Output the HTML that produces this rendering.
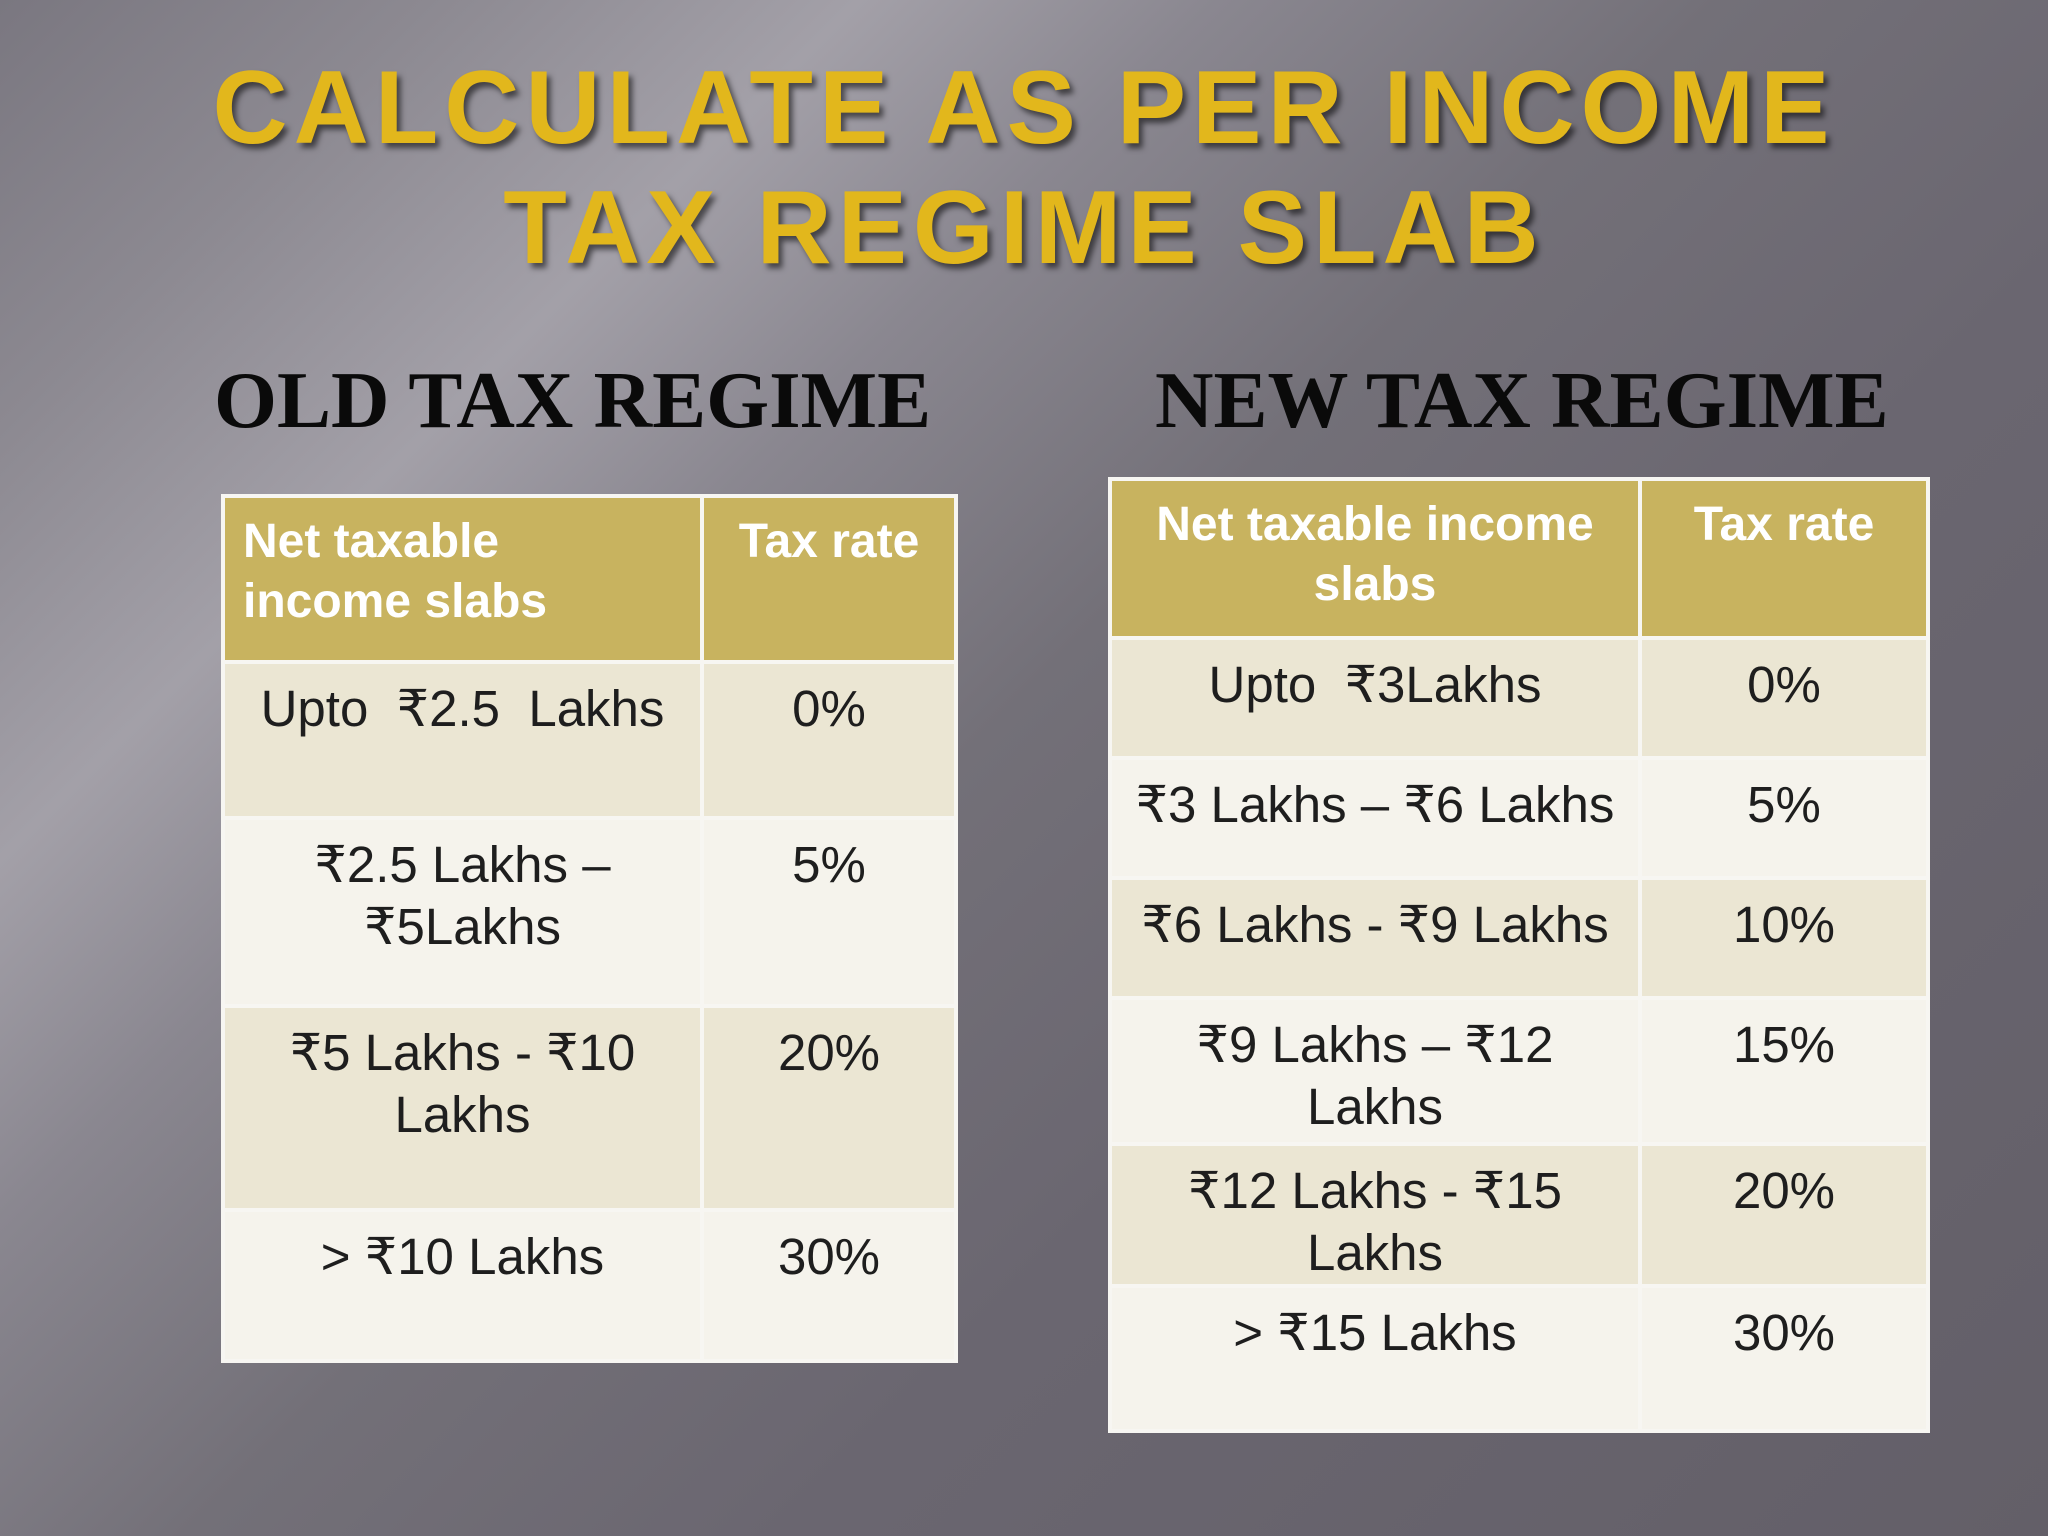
<!DOCTYPE html>
<html><head><meta charset="utf-8"><style>
html,body{margin:0;padding:0}
body{width:2048px;height:1536px;overflow:hidden;position:relative;font-family:"Liberation Sans","DejaVu Sans",sans-serif;
background:linear-gradient(135deg,#7a7780 0%,#8c8991 12%,#a3a0a8 24%,#8a8790 34%,#737078 48%,#6a6670 65%,#635f68 100%);}
.title{position:absolute;left:0;width:2048px;text-align:center;color:#e2b71c;font-weight:bold;font-size:104px;letter-spacing:6px;
text-shadow:4px 5px 6px rgba(0,0,0,.55);line-height:120px}
.h{position:absolute;font-family:"Liberation Serif",serif;font-weight:bold;font-size:81px;color:#0a0a0a;line-height:100px;white-space:nowrap}
table{position:absolute;border-collapse:collapse;table-layout:fixed}
td{border:4px solid #f7f6f2;vertical-align:top;text-align:center;color:#1e1e1e;font-size:51px;line-height:62px;padding:14px 6px 0}
th{border:4px solid #f7f6f2;background:#c8b35f;color:#fff;font-weight:bold;font-size:48px;line-height:60px;vertical-align:top;padding:14px 18px 0;text-align:center}
.a td{background:#ebe6d3}.b td{background:#f5f3ec}
</style></head><body>
<div class="title" style="top:48px">CALCULATE AS PER INCOME</div>
<div class="title" style="top:168px">TAX REGIME SLAB</div>
<div class="h" style="left:214px;top:350px">OLD TAX REGIME</div>
<div class="h" style="left:1155px;top:350px">NEW TAX REGIME</div>

<table style="left:221px;top:494px;width:737px">
<colgroup><col style="width:479px"><col></colgroup>
<tr style="height:166px"><th style="text-align:left;padding-right:130px">Net taxable income slabs</th><th>Tax rate</th></tr>
<tr class="a" style="height:156px"><td>Upto&nbsp; ₹2.5&nbsp; Lakhs</td><td>0%</td></tr>
<tr class="b" style="height:188px"><td>₹2.5 Lakhs –<br>₹5Lakhs</td><td>5%</td></tr>
<tr class="a" style="height:204px"><td>₹5 Lakhs - ₹10<br>Lakhs</td><td>20%</td></tr>
<tr class="b" style="height:151px"><td>&gt; ₹10 Lakhs</td><td>30%</td></tr>
</table>

<table style="left:1108px;top:477px;width:822px">
<colgroup><col style="width:530px"><col></colgroup>
<tr style="height:159px"><th>Net taxable income slabs</th><th>Tax rate</th></tr>
<tr class="a" style="height:120px"><td>Upto&nbsp; ₹3Lakhs</td><td>0%</td></tr>
<tr class="b" style="height:120px"><td>₹3 Lakhs – ₹6 Lakhs</td><td>5%</td></tr>
<tr class="a" style="height:120px"><td>₹6 Lakhs - ₹9 Lakhs</td><td>10%</td></tr>
<tr class="b" style="height:146px"><td>₹9 Lakhs – ₹12<br>Lakhs</td><td>15%</td></tr>
<tr class="a" style="height:141px"><td>₹12 Lakhs - ₹15<br>Lakhs</td><td>20%</td></tr>
<tr class="b" style="height:145px"><td>&gt; ₹15 Lakhs</td><td>30%</td></tr>
</table>
</body></html>
